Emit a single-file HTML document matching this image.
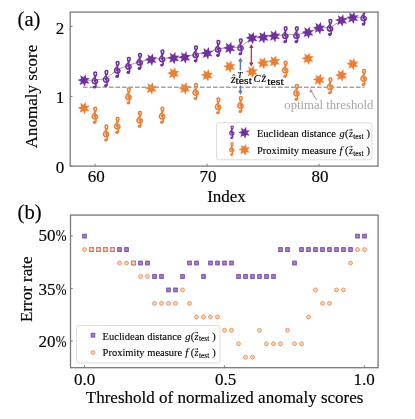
<!DOCTYPE html>
<html><head><meta charset="utf-8"><style>
html,body{margin:0;padding:0;background:#fff;width:415px;height:419px;overflow:hidden}
svg{display:block;will-change:transform}
text{font-family:"Liberation Serif",serif}
</style></head><body>
<svg width="415" height="419" viewBox="0 0 415 419">
<rect width="415" height="419" fill="#fff"/>
<defs><clipPath id="ca"><rect x="70.2" y="12.4" width="307.8" height="153.6"/></clipPath></defs>
<g clip-path="url(#ca)">
<path d="M-6.09,-0.43 L-2.69,-1.54 L-3.46,-5.02 L-0.48,-3.06 L1.77,-5.84 L2.10,-2.28 L5.67,-2.26 L3.09,0.22 L5.30,3.02 L1.76,2.55 L0.94,6.03 L-0.90,2.97 L-4.13,4.49 L-2.88,1.15Z" transform="translate(83.90,108.10) scale(1.0)" fill="#ED7D31" stroke="#ED7D31" stroke-width="0.2"/>
<g transform="translate(95.10,115.45) scale(1.0,0.970)"><path d="M-0.6,7.6 C0.4,7.6 1.0,6.8 0.9,5.6 L0.0,-3.0 C-0.5,-4.6 -1.3,-6.0 -1.2,-7.4 C-1.1,-8.8 1.5,-8.8 1.5,-7.0 C1.5,-5.4 0.9,-4.4 -0.2,-3.2 C-1.6,-1.8 -3.0,-0.8 -2.9,1.0 C-2.8,2.8 -1.4,3.5 0.0,3.5 C1.6,3.5 2.5,2.5 2.4,1.0 C2.3,-0.5 1.2,-1.2 0.0,-0.8 C-1.0,-0.4 -1.0,1.0 0.0,1.3" fill="none" stroke="#ED7D31" stroke-width="1.55" stroke-linecap="round"/><circle cx="-0.6" cy="6.9" r="1.6" fill="#ED7D31"/></g>
<g transform="translate(106.30,133.25) scale(1.0,0.970)"><path d="M-0.6,7.6 C0.4,7.6 1.0,6.8 0.9,5.6 L0.0,-3.0 C-0.5,-4.6 -1.3,-6.0 -1.2,-7.4 C-1.1,-8.8 1.5,-8.8 1.5,-7.0 C1.5,-5.4 0.9,-4.4 -0.2,-3.2 C-1.6,-1.8 -3.0,-0.8 -2.9,1.0 C-2.8,2.8 -1.4,3.5 0.0,3.5 C1.6,3.5 2.5,2.5 2.4,1.0 C2.3,-0.5 1.2,-1.2 0.0,-0.8 C-1.0,-0.4 -1.0,1.0 0.0,1.3" fill="none" stroke="#ED7D31" stroke-width="1.55" stroke-linecap="round"/><circle cx="-0.6" cy="6.9" r="1.6" fill="#ED7D31"/></g>
<g transform="translate(117.50,125.55) scale(1.0,0.970)"><path d="M-0.6,7.6 C0.4,7.6 1.0,6.8 0.9,5.6 L0.0,-3.0 C-0.5,-4.6 -1.3,-6.0 -1.2,-7.4 C-1.1,-8.8 1.5,-8.8 1.5,-7.0 C1.5,-5.4 0.9,-4.4 -0.2,-3.2 C-1.6,-1.8 -3.0,-0.8 -2.9,1.0 C-2.8,2.8 -1.4,3.5 0.0,3.5 C1.6,3.5 2.5,2.5 2.4,1.0 C2.3,-0.5 1.2,-1.2 0.0,-0.8 C-1.0,-0.4 -1.0,1.0 0.0,1.3" fill="none" stroke="#ED7D31" stroke-width="1.55" stroke-linecap="round"/><circle cx="-0.6" cy="6.9" r="1.6" fill="#ED7D31"/></g>
<g transform="translate(128.70,96.15) scale(1.0,0.970)"><path d="M-0.6,7.6 C0.4,7.6 1.0,6.8 0.9,5.6 L0.0,-3.0 C-0.5,-4.6 -1.3,-6.0 -1.2,-7.4 C-1.1,-8.8 1.5,-8.8 1.5,-7.0 C1.5,-5.4 0.9,-4.4 -0.2,-3.2 C-1.6,-1.8 -3.0,-0.8 -2.9,1.0 C-2.8,2.8 -1.4,3.5 0.0,3.5 C1.6,3.5 2.5,2.5 2.4,1.0 C2.3,-0.5 1.2,-1.2 0.0,-0.8 C-1.0,-0.4 -1.0,1.0 0.0,1.3" fill="none" stroke="#ED7D31" stroke-width="1.55" stroke-linecap="round"/><circle cx="-0.6" cy="6.9" r="1.6" fill="#ED7D31"/></g>
<g transform="translate(139.90,119.55) scale(1.0,0.970)"><path d="M-0.6,7.6 C0.4,7.6 1.0,6.8 0.9,5.6 L0.0,-3.0 C-0.5,-4.6 -1.3,-6.0 -1.2,-7.4 C-1.1,-8.8 1.5,-8.8 1.5,-7.0 C1.5,-5.4 0.9,-4.4 -0.2,-3.2 C-1.6,-1.8 -3.0,-0.8 -2.9,1.0 C-2.8,2.8 -1.4,3.5 0.0,3.5 C1.6,3.5 2.5,2.5 2.4,1.0 C2.3,-0.5 1.2,-1.2 0.0,-0.8 C-1.0,-0.4 -1.0,1.0 0.0,1.3" fill="none" stroke="#ED7D31" stroke-width="1.55" stroke-linecap="round"/><circle cx="-0.6" cy="6.9" r="1.6" fill="#ED7D31"/></g>
<path d="M-6.09,-0.43 L-2.69,-1.54 L-3.46,-5.02 L-0.48,-3.06 L1.77,-5.84 L2.10,-2.28 L5.67,-2.26 L3.09,0.22 L5.30,3.02 L1.76,2.55 L0.94,6.03 L-0.90,2.97 L-4.13,4.49 L-2.88,1.15Z" transform="translate(151.10,88.40) scale(1.0)" fill="#ED7D31" stroke="#ED7D31" stroke-width="0.2"/>
<g transform="translate(162.30,115.45) scale(1.0,0.970)"><path d="M-0.6,7.6 C0.4,7.6 1.0,6.8 0.9,5.6 L0.0,-3.0 C-0.5,-4.6 -1.3,-6.0 -1.2,-7.4 C-1.1,-8.8 1.5,-8.8 1.5,-7.0 C1.5,-5.4 0.9,-4.4 -0.2,-3.2 C-1.6,-1.8 -3.0,-0.8 -2.9,1.0 C-2.8,2.8 -1.4,3.5 0.0,3.5 C1.6,3.5 2.5,2.5 2.4,1.0 C2.3,-0.5 1.2,-1.2 0.0,-0.8 C-1.0,-0.4 -1.0,1.0 0.0,1.3" fill="none" stroke="#ED7D31" stroke-width="1.55" stroke-linecap="round"/><circle cx="-0.6" cy="6.9" r="1.6" fill="#ED7D31"/></g>
<path d="M-6.09,-0.43 L-2.69,-1.54 L-3.46,-5.02 L-0.48,-3.06 L1.77,-5.84 L2.10,-2.28 L5.67,-2.26 L3.09,0.22 L5.30,3.02 L1.76,2.55 L0.94,6.03 L-0.90,2.97 L-4.13,4.49 L-2.88,1.15Z" transform="translate(173.50,73.40) scale(1.0)" fill="#ED7D31" stroke="#ED7D31" stroke-width="0.2"/>
<path d="M-6.09,-0.43 L-2.69,-1.54 L-3.46,-5.02 L-0.48,-3.06 L1.77,-5.84 L2.10,-2.28 L5.67,-2.26 L3.09,0.22 L5.30,3.02 L1.76,2.55 L0.94,6.03 L-0.90,2.97 L-4.13,4.49 L-2.88,1.15Z" transform="translate(184.70,88.40) scale(1.0)" fill="#ED7D31" stroke="#ED7D31" stroke-width="0.2"/>
<g transform="translate(195.90,91.75) scale(1.0,0.970)"><path d="M-0.6,7.6 C0.4,7.6 1.0,6.8 0.9,5.6 L0.0,-3.0 C-0.5,-4.6 -1.3,-6.0 -1.2,-7.4 C-1.1,-8.8 1.5,-8.8 1.5,-7.0 C1.5,-5.4 0.9,-4.4 -0.2,-3.2 C-1.6,-1.8 -3.0,-0.8 -2.9,1.0 C-2.8,2.8 -1.4,3.5 0.0,3.5 C1.6,3.5 2.5,2.5 2.4,1.0 C2.3,-0.5 1.2,-1.2 0.0,-0.8 C-1.0,-0.4 -1.0,1.0 0.0,1.3" fill="none" stroke="#ED7D31" stroke-width="1.55" stroke-linecap="round"/><circle cx="-0.6" cy="6.9" r="1.6" fill="#ED7D31"/></g>
<path d="M-6.09,-0.43 L-2.69,-1.54 L-3.46,-5.02 L-0.48,-3.06 L1.77,-5.84 L2.10,-2.28 L5.67,-2.26 L3.09,0.22 L5.30,3.02 L1.76,2.55 L0.94,6.03 L-0.90,2.97 L-4.13,4.49 L-2.88,1.15Z" transform="translate(207.10,75.20) scale(1.0)" fill="#ED7D31" stroke="#ED7D31" stroke-width="0.2"/>
<g transform="translate(218.30,106.05) scale(1.0,0.970)"><path d="M-0.6,7.6 C0.4,7.6 1.0,6.8 0.9,5.6 L0.0,-3.0 C-0.5,-4.6 -1.3,-6.0 -1.2,-7.4 C-1.1,-8.8 1.5,-8.8 1.5,-7.0 C1.5,-5.4 0.9,-4.4 -0.2,-3.2 C-1.6,-1.8 -3.0,-0.8 -2.9,1.0 C-2.8,2.8 -1.4,3.5 0.0,3.5 C1.6,3.5 2.5,2.5 2.4,1.0 C2.3,-0.5 1.2,-1.2 0.0,-0.8 C-1.0,-0.4 -1.0,1.0 0.0,1.3" fill="none" stroke="#ED7D31" stroke-width="1.55" stroke-linecap="round"/><circle cx="-0.6" cy="6.9" r="1.6" fill="#ED7D31"/></g>
<path d="M-6.09,-0.43 L-2.69,-1.54 L-3.46,-5.02 L-0.48,-3.06 L1.77,-5.84 L2.10,-2.28 L5.67,-2.26 L3.09,0.22 L5.30,3.02 L1.76,2.55 L0.94,6.03 L-0.90,2.97 L-4.13,4.49 L-2.88,1.15Z" transform="translate(229.50,66.60) scale(1.0)" fill="#ED7D31" stroke="#ED7D31" stroke-width="0.2"/>
<g transform="translate(240.70,104.75) scale(1.0,0.970)"><path d="M-0.6,7.6 C0.4,7.6 1.0,6.8 0.9,5.6 L0.0,-3.0 C-0.5,-4.6 -1.3,-6.0 -1.2,-7.4 C-1.1,-8.8 1.5,-8.8 1.5,-7.0 C1.5,-5.4 0.9,-4.4 -0.2,-3.2 C-1.6,-1.8 -3.0,-0.8 -2.9,1.0 C-2.8,2.8 -1.4,3.5 0.0,3.5 C1.6,3.5 2.5,2.5 2.4,1.0 C2.3,-0.5 1.2,-1.2 0.0,-0.8 C-1.0,-0.4 -1.0,1.0 0.0,1.3" fill="none" stroke="#ED7D31" stroke-width="1.55" stroke-linecap="round"/><circle cx="-0.6" cy="6.9" r="1.6" fill="#ED7D31"/></g>
<path d="M-6.09,-0.43 L-2.69,-1.54 L-3.46,-5.02 L-0.48,-3.06 L1.77,-5.84 L2.10,-2.28 L5.67,-2.26 L3.09,0.22 L5.30,3.02 L1.76,2.55 L0.94,6.03 L-0.90,2.97 L-4.13,4.49 L-2.88,1.15Z" transform="translate(251.90,71.70) scale(1.0)" fill="#ED7D31" stroke="#ED7D31" stroke-width="0.2"/>
<path d="M-6.09,-0.43 L-2.69,-1.54 L-3.46,-5.02 L-0.48,-3.06 L1.77,-5.84 L2.10,-2.28 L5.67,-2.26 L3.09,0.22 L5.30,3.02 L1.76,2.55 L0.94,6.03 L-0.90,2.97 L-4.13,4.49 L-2.88,1.15Z" transform="translate(263.10,63.10) scale(1.0)" fill="#ED7D31" stroke="#ED7D31" stroke-width="0.2"/>
<path d="M-6.09,-0.43 L-2.69,-1.54 L-3.46,-5.02 L-0.48,-3.06 L1.77,-5.84 L2.10,-2.28 L5.67,-2.26 L3.09,0.22 L5.30,3.02 L1.76,2.55 L0.94,6.03 L-0.90,2.97 L-4.13,4.49 L-2.88,1.15Z" transform="translate(274.30,61.60) scale(1.0)" fill="#ED7D31" stroke="#ED7D31" stroke-width="0.2"/>
<g transform="translate(285.50,69.45) scale(1.0,0.970)"><path d="M-0.6,7.6 C0.4,7.6 1.0,6.8 0.9,5.6 L0.0,-3.0 C-0.5,-4.6 -1.3,-6.0 -1.2,-7.4 C-1.1,-8.8 1.5,-8.8 1.5,-7.0 C1.5,-5.4 0.9,-4.4 -0.2,-3.2 C-1.6,-1.8 -3.0,-0.8 -2.9,1.0 C-2.8,2.8 -1.4,3.5 0.0,3.5 C1.6,3.5 2.5,2.5 2.4,1.0 C2.3,-0.5 1.2,-1.2 0.0,-0.8 C-1.0,-0.4 -1.0,1.0 0.0,1.3" fill="none" stroke="#ED7D31" stroke-width="1.55" stroke-linecap="round"/><circle cx="-0.6" cy="6.9" r="1.6" fill="#ED7D31"/></g>
<g transform="translate(296.70,92.55) scale(1.0,0.970)"><path d="M-0.6,7.6 C0.4,7.6 1.0,6.8 0.9,5.6 L0.0,-3.0 C-0.5,-4.6 -1.3,-6.0 -1.2,-7.4 C-1.1,-8.8 1.5,-8.8 1.5,-7.0 C1.5,-5.4 0.9,-4.4 -0.2,-3.2 C-1.6,-1.8 -3.0,-0.8 -2.9,1.0 C-2.8,2.8 -1.4,3.5 0.0,3.5 C1.6,3.5 2.5,2.5 2.4,1.0 C2.3,-0.5 1.2,-1.2 0.0,-0.8 C-1.0,-0.4 -1.0,1.0 0.0,1.3" fill="none" stroke="#ED7D31" stroke-width="1.55" stroke-linecap="round"/><circle cx="-0.6" cy="6.9" r="1.6" fill="#ED7D31"/></g>
<path d="M-6.09,-0.43 L-2.69,-1.54 L-3.46,-5.02 L-0.48,-3.06 L1.77,-5.84 L2.10,-2.28 L5.67,-2.26 L3.09,0.22 L5.30,3.02 L1.76,2.55 L0.94,6.03 L-0.90,2.97 L-4.13,4.49 L-2.88,1.15Z" transform="translate(307.90,58.60) scale(1.0)" fill="#ED7D31" stroke="#ED7D31" stroke-width="0.2"/>
<path d="M-6.09,-0.43 L-2.69,-1.54 L-3.46,-5.02 L-0.48,-3.06 L1.77,-5.84 L2.10,-2.28 L5.67,-2.26 L3.09,0.22 L5.30,3.02 L1.76,2.55 L0.94,6.03 L-0.90,2.97 L-4.13,4.49 L-2.88,1.15Z" transform="translate(319.10,79.70) scale(1.0)" fill="#ED7D31" stroke="#ED7D31" stroke-width="0.2"/>
<g transform="translate(330.30,86.05) scale(1.0,0.970)"><path d="M-0.6,7.6 C0.4,7.6 1.0,6.8 0.9,5.6 L0.0,-3.0 C-0.5,-4.6 -1.3,-6.0 -1.2,-7.4 C-1.1,-8.8 1.5,-8.8 1.5,-7.0 C1.5,-5.4 0.9,-4.4 -0.2,-3.2 C-1.6,-1.8 -3.0,-0.8 -2.9,1.0 C-2.8,2.8 -1.4,3.5 0.0,3.5 C1.6,3.5 2.5,2.5 2.4,1.0 C2.3,-0.5 1.2,-1.2 0.0,-0.8 C-1.0,-0.4 -1.0,1.0 0.0,1.3" fill="none" stroke="#ED7D31" stroke-width="1.55" stroke-linecap="round"/><circle cx="-0.6" cy="6.9" r="1.6" fill="#ED7D31"/></g>
<path d="M-6.09,-0.43 L-2.69,-1.54 L-3.46,-5.02 L-0.48,-3.06 L1.77,-5.84 L2.10,-2.28 L5.67,-2.26 L3.09,0.22 L5.30,3.02 L1.76,2.55 L0.94,6.03 L-0.90,2.97 L-4.13,4.49 L-2.88,1.15Z" transform="translate(341.50,75.40) scale(1.0)" fill="#ED7D31" stroke="#ED7D31" stroke-width="0.2"/>
<path d="M-6.09,-0.43 L-2.69,-1.54 L-3.46,-5.02 L-0.48,-3.06 L1.77,-5.84 L2.10,-2.28 L5.67,-2.26 L3.09,0.22 L5.30,3.02 L1.76,2.55 L0.94,6.03 L-0.90,2.97 L-4.13,4.49 L-2.88,1.15Z" transform="translate(352.70,64.00) scale(1.0)" fill="#ED7D31" stroke="#ED7D31" stroke-width="0.2"/>
<g transform="translate(363.90,77.75) scale(1.0,0.970)"><path d="M-0.6,7.6 C0.4,7.6 1.0,6.8 0.9,5.6 L0.0,-3.0 C-0.5,-4.6 -1.3,-6.0 -1.2,-7.4 C-1.1,-8.8 1.5,-8.8 1.5,-7.0 C1.5,-5.4 0.9,-4.4 -0.2,-3.2 C-1.6,-1.8 -3.0,-0.8 -2.9,1.0 C-2.8,2.8 -1.4,3.5 0.0,3.5 C1.6,3.5 2.5,2.5 2.4,1.0 C2.3,-0.5 1.2,-1.2 0.0,-0.8 C-1.0,-0.4 -1.0,1.0 0.0,1.3" fill="none" stroke="#ED7D31" stroke-width="1.55" stroke-linecap="round"/><circle cx="-0.6" cy="6.9" r="1.6" fill="#ED7D31"/></g>
<line x1="83" y1="87.2" x2="364.4" y2="87.2" stroke="#a2a2a2" stroke-width="1.4" stroke-dasharray="4.6 1.9"/>
<polyline points="83.90,80.40 95.10,80.00 106.30,78.50 117.50,69.40 128.70,65.40 139.90,61.40 151.10,59.60 162.30,58.00 173.50,58.10 184.70,57.40 195.90,53.90 207.10,53.20 218.30,48.40 229.50,48.10 240.70,46.80 251.90,38.10 263.10,37.40 274.30,36.00 285.50,34.70 296.70,34.70 307.90,32.50 319.10,28.10 330.30,27.40 341.50,20.40 352.70,17.70 363.90,17.10" fill="none" stroke="#8a8a8a" stroke-width="0.8"/>
<path d="M-6.09,-0.43 L-2.69,-1.54 L-3.46,-5.02 L-0.48,-3.06 L1.77,-5.84 L2.10,-2.28 L5.67,-2.26 L3.09,0.22 L5.30,3.02 L1.76,2.55 L0.94,6.03 L-0.90,2.97 L-4.13,4.49 L-2.88,1.15Z" transform="translate(83.90,80.40) scale(1.0)" fill="#7030A0" stroke="#7030A0" stroke-width="0.2"/>
<g transform="translate(95.10,80.25) scale(1.0,0.970)"><path d="M-0.6,7.6 C0.4,7.6 1.0,6.8 0.9,5.6 L0.0,-3.0 C-0.5,-4.6 -1.3,-6.0 -1.2,-7.4 C-1.1,-8.8 1.5,-8.8 1.5,-7.0 C1.5,-5.4 0.9,-4.4 -0.2,-3.2 C-1.6,-1.8 -3.0,-0.8 -2.9,1.0 C-2.8,2.8 -1.4,3.5 0.0,3.5 C1.6,3.5 2.5,2.5 2.4,1.0 C2.3,-0.5 1.2,-1.2 0.0,-0.8 C-1.0,-0.4 -1.0,1.0 0.0,1.3" fill="none" stroke="#7030A0" stroke-width="1.55" stroke-linecap="round"/><circle cx="-0.6" cy="6.9" r="1.6" fill="#7030A0"/></g>
<g transform="translate(106.30,78.75) scale(1.0,0.970)"><path d="M-0.6,7.6 C0.4,7.6 1.0,6.8 0.9,5.6 L0.0,-3.0 C-0.5,-4.6 -1.3,-6.0 -1.2,-7.4 C-1.1,-8.8 1.5,-8.8 1.5,-7.0 C1.5,-5.4 0.9,-4.4 -0.2,-3.2 C-1.6,-1.8 -3.0,-0.8 -2.9,1.0 C-2.8,2.8 -1.4,3.5 0.0,3.5 C1.6,3.5 2.5,2.5 2.4,1.0 C2.3,-0.5 1.2,-1.2 0.0,-0.8 C-1.0,-0.4 -1.0,1.0 0.0,1.3" fill="none" stroke="#7030A0" stroke-width="1.55" stroke-linecap="round"/><circle cx="-0.6" cy="6.9" r="1.6" fill="#7030A0"/></g>
<g transform="translate(117.50,69.65) scale(1.0,0.970)"><path d="M-0.6,7.6 C0.4,7.6 1.0,6.8 0.9,5.6 L0.0,-3.0 C-0.5,-4.6 -1.3,-6.0 -1.2,-7.4 C-1.1,-8.8 1.5,-8.8 1.5,-7.0 C1.5,-5.4 0.9,-4.4 -0.2,-3.2 C-1.6,-1.8 -3.0,-0.8 -2.9,1.0 C-2.8,2.8 -1.4,3.5 0.0,3.5 C1.6,3.5 2.5,2.5 2.4,1.0 C2.3,-0.5 1.2,-1.2 0.0,-0.8 C-1.0,-0.4 -1.0,1.0 0.0,1.3" fill="none" stroke="#7030A0" stroke-width="1.55" stroke-linecap="round"/><circle cx="-0.6" cy="6.9" r="1.6" fill="#7030A0"/></g>
<g transform="translate(128.70,65.65) scale(1.0,0.970)"><path d="M-0.6,7.6 C0.4,7.6 1.0,6.8 0.9,5.6 L0.0,-3.0 C-0.5,-4.6 -1.3,-6.0 -1.2,-7.4 C-1.1,-8.8 1.5,-8.8 1.5,-7.0 C1.5,-5.4 0.9,-4.4 -0.2,-3.2 C-1.6,-1.8 -3.0,-0.8 -2.9,1.0 C-2.8,2.8 -1.4,3.5 0.0,3.5 C1.6,3.5 2.5,2.5 2.4,1.0 C2.3,-0.5 1.2,-1.2 0.0,-0.8 C-1.0,-0.4 -1.0,1.0 0.0,1.3" fill="none" stroke="#7030A0" stroke-width="1.55" stroke-linecap="round"/><circle cx="-0.6" cy="6.9" r="1.6" fill="#7030A0"/></g>
<g transform="translate(139.90,61.65) scale(1.0,0.970)"><path d="M-0.6,7.6 C0.4,7.6 1.0,6.8 0.9,5.6 L0.0,-3.0 C-0.5,-4.6 -1.3,-6.0 -1.2,-7.4 C-1.1,-8.8 1.5,-8.8 1.5,-7.0 C1.5,-5.4 0.9,-4.4 -0.2,-3.2 C-1.6,-1.8 -3.0,-0.8 -2.9,1.0 C-2.8,2.8 -1.4,3.5 0.0,3.5 C1.6,3.5 2.5,2.5 2.4,1.0 C2.3,-0.5 1.2,-1.2 0.0,-0.8 C-1.0,-0.4 -1.0,1.0 0.0,1.3" fill="none" stroke="#7030A0" stroke-width="1.55" stroke-linecap="round"/><circle cx="-0.6" cy="6.9" r="1.6" fill="#7030A0"/></g>
<path d="M-6.09,-0.43 L-2.69,-1.54 L-3.46,-5.02 L-0.48,-3.06 L1.77,-5.84 L2.10,-2.28 L5.67,-2.26 L3.09,0.22 L5.30,3.02 L1.76,2.55 L0.94,6.03 L-0.90,2.97 L-4.13,4.49 L-2.88,1.15Z" transform="translate(151.10,59.60) scale(1.0)" fill="#7030A0" stroke="#7030A0" stroke-width="0.2"/>
<g transform="translate(162.30,58.25) scale(1.0,0.970)"><path d="M-0.6,7.6 C0.4,7.6 1.0,6.8 0.9,5.6 L0.0,-3.0 C-0.5,-4.6 -1.3,-6.0 -1.2,-7.4 C-1.1,-8.8 1.5,-8.8 1.5,-7.0 C1.5,-5.4 0.9,-4.4 -0.2,-3.2 C-1.6,-1.8 -3.0,-0.8 -2.9,1.0 C-2.8,2.8 -1.4,3.5 0.0,3.5 C1.6,3.5 2.5,2.5 2.4,1.0 C2.3,-0.5 1.2,-1.2 0.0,-0.8 C-1.0,-0.4 -1.0,1.0 0.0,1.3" fill="none" stroke="#7030A0" stroke-width="1.55" stroke-linecap="round"/><circle cx="-0.6" cy="6.9" r="1.6" fill="#7030A0"/></g>
<path d="M-6.09,-0.43 L-2.69,-1.54 L-3.46,-5.02 L-0.48,-3.06 L1.77,-5.84 L2.10,-2.28 L5.67,-2.26 L3.09,0.22 L5.30,3.02 L1.76,2.55 L0.94,6.03 L-0.90,2.97 L-4.13,4.49 L-2.88,1.15Z" transform="translate(173.50,58.10) scale(1.0)" fill="#7030A0" stroke="#7030A0" stroke-width="0.2"/>
<path d="M-6.09,-0.43 L-2.69,-1.54 L-3.46,-5.02 L-0.48,-3.06 L1.77,-5.84 L2.10,-2.28 L5.67,-2.26 L3.09,0.22 L5.30,3.02 L1.76,2.55 L0.94,6.03 L-0.90,2.97 L-4.13,4.49 L-2.88,1.15Z" transform="translate(184.70,57.40) scale(1.0)" fill="#7030A0" stroke="#7030A0" stroke-width="0.2"/>
<g transform="translate(195.90,54.15) scale(1.0,0.970)"><path d="M-0.6,7.6 C0.4,7.6 1.0,6.8 0.9,5.6 L0.0,-3.0 C-0.5,-4.6 -1.3,-6.0 -1.2,-7.4 C-1.1,-8.8 1.5,-8.8 1.5,-7.0 C1.5,-5.4 0.9,-4.4 -0.2,-3.2 C-1.6,-1.8 -3.0,-0.8 -2.9,1.0 C-2.8,2.8 -1.4,3.5 0.0,3.5 C1.6,3.5 2.5,2.5 2.4,1.0 C2.3,-0.5 1.2,-1.2 0.0,-0.8 C-1.0,-0.4 -1.0,1.0 0.0,1.3" fill="none" stroke="#7030A0" stroke-width="1.55" stroke-linecap="round"/><circle cx="-0.6" cy="6.9" r="1.6" fill="#7030A0"/></g>
<path d="M-6.09,-0.43 L-2.69,-1.54 L-3.46,-5.02 L-0.48,-3.06 L1.77,-5.84 L2.10,-2.28 L5.67,-2.26 L3.09,0.22 L5.30,3.02 L1.76,2.55 L0.94,6.03 L-0.90,2.97 L-4.13,4.49 L-2.88,1.15Z" transform="translate(207.10,53.20) scale(1.0)" fill="#7030A0" stroke="#7030A0" stroke-width="0.2"/>
<g transform="translate(218.30,48.65) scale(1.0,0.970)"><path d="M-0.6,7.6 C0.4,7.6 1.0,6.8 0.9,5.6 L0.0,-3.0 C-0.5,-4.6 -1.3,-6.0 -1.2,-7.4 C-1.1,-8.8 1.5,-8.8 1.5,-7.0 C1.5,-5.4 0.9,-4.4 -0.2,-3.2 C-1.6,-1.8 -3.0,-0.8 -2.9,1.0 C-2.8,2.8 -1.4,3.5 0.0,3.5 C1.6,3.5 2.5,2.5 2.4,1.0 C2.3,-0.5 1.2,-1.2 0.0,-0.8 C-1.0,-0.4 -1.0,1.0 0.0,1.3" fill="none" stroke="#7030A0" stroke-width="1.55" stroke-linecap="round"/><circle cx="-0.6" cy="6.9" r="1.6" fill="#7030A0"/></g>
<path d="M-6.09,-0.43 L-2.69,-1.54 L-3.46,-5.02 L-0.48,-3.06 L1.77,-5.84 L2.10,-2.28 L5.67,-2.26 L3.09,0.22 L5.30,3.02 L1.76,2.55 L0.94,6.03 L-0.90,2.97 L-4.13,4.49 L-2.88,1.15Z" transform="translate(229.50,48.10) scale(1.0)" fill="#7030A0" stroke="#7030A0" stroke-width="0.2"/>
<g transform="translate(240.70,47.05) scale(1.0,0.970)"><path d="M-0.6,7.6 C0.4,7.6 1.0,6.8 0.9,5.6 L0.0,-3.0 C-0.5,-4.6 -1.3,-6.0 -1.2,-7.4 C-1.1,-8.8 1.5,-8.8 1.5,-7.0 C1.5,-5.4 0.9,-4.4 -0.2,-3.2 C-1.6,-1.8 -3.0,-0.8 -2.9,1.0 C-2.8,2.8 -1.4,3.5 0.0,3.5 C1.6,3.5 2.5,2.5 2.4,1.0 C2.3,-0.5 1.2,-1.2 0.0,-0.8 C-1.0,-0.4 -1.0,1.0 0.0,1.3" fill="none" stroke="#7030A0" stroke-width="1.55" stroke-linecap="round"/><circle cx="-0.6" cy="6.9" r="1.6" fill="#7030A0"/></g>
<path d="M-6.09,-0.43 L-2.69,-1.54 L-3.46,-5.02 L-0.48,-3.06 L1.77,-5.84 L2.10,-2.28 L5.67,-2.26 L3.09,0.22 L5.30,3.02 L1.76,2.55 L0.94,6.03 L-0.90,2.97 L-4.13,4.49 L-2.88,1.15Z" transform="translate(251.90,38.10) scale(1.0)" fill="#7030A0" stroke="#7030A0" stroke-width="0.2"/>
<path d="M-6.09,-0.43 L-2.69,-1.54 L-3.46,-5.02 L-0.48,-3.06 L1.77,-5.84 L2.10,-2.28 L5.67,-2.26 L3.09,0.22 L5.30,3.02 L1.76,2.55 L0.94,6.03 L-0.90,2.97 L-4.13,4.49 L-2.88,1.15Z" transform="translate(263.10,37.40) scale(1.0)" fill="#7030A0" stroke="#7030A0" stroke-width="0.2"/>
<path d="M-6.09,-0.43 L-2.69,-1.54 L-3.46,-5.02 L-0.48,-3.06 L1.77,-5.84 L2.10,-2.28 L5.67,-2.26 L3.09,0.22 L5.30,3.02 L1.76,2.55 L0.94,6.03 L-0.90,2.97 L-4.13,4.49 L-2.88,1.15Z" transform="translate(274.30,36.00) scale(1.0)" fill="#7030A0" stroke="#7030A0" stroke-width="0.2"/>
<g transform="translate(285.50,34.95) scale(1.0,0.970)"><path d="M-0.6,7.6 C0.4,7.6 1.0,6.8 0.9,5.6 L0.0,-3.0 C-0.5,-4.6 -1.3,-6.0 -1.2,-7.4 C-1.1,-8.8 1.5,-8.8 1.5,-7.0 C1.5,-5.4 0.9,-4.4 -0.2,-3.2 C-1.6,-1.8 -3.0,-0.8 -2.9,1.0 C-2.8,2.8 -1.4,3.5 0.0,3.5 C1.6,3.5 2.5,2.5 2.4,1.0 C2.3,-0.5 1.2,-1.2 0.0,-0.8 C-1.0,-0.4 -1.0,1.0 0.0,1.3" fill="none" stroke="#7030A0" stroke-width="1.55" stroke-linecap="round"/><circle cx="-0.6" cy="6.9" r="1.6" fill="#7030A0"/></g>
<g transform="translate(296.70,34.95) scale(1.0,0.970)"><path d="M-0.6,7.6 C0.4,7.6 1.0,6.8 0.9,5.6 L0.0,-3.0 C-0.5,-4.6 -1.3,-6.0 -1.2,-7.4 C-1.1,-8.8 1.5,-8.8 1.5,-7.0 C1.5,-5.4 0.9,-4.4 -0.2,-3.2 C-1.6,-1.8 -3.0,-0.8 -2.9,1.0 C-2.8,2.8 -1.4,3.5 0.0,3.5 C1.6,3.5 2.5,2.5 2.4,1.0 C2.3,-0.5 1.2,-1.2 0.0,-0.8 C-1.0,-0.4 -1.0,1.0 0.0,1.3" fill="none" stroke="#7030A0" stroke-width="1.55" stroke-linecap="round"/><circle cx="-0.6" cy="6.9" r="1.6" fill="#7030A0"/></g>
<path d="M-6.09,-0.43 L-2.69,-1.54 L-3.46,-5.02 L-0.48,-3.06 L1.77,-5.84 L2.10,-2.28 L5.67,-2.26 L3.09,0.22 L5.30,3.02 L1.76,2.55 L0.94,6.03 L-0.90,2.97 L-4.13,4.49 L-2.88,1.15Z" transform="translate(307.90,32.50) scale(1.0)" fill="#7030A0" stroke="#7030A0" stroke-width="0.2"/>
<path d="M-6.09,-0.43 L-2.69,-1.54 L-3.46,-5.02 L-0.48,-3.06 L1.77,-5.84 L2.10,-2.28 L5.67,-2.26 L3.09,0.22 L5.30,3.02 L1.76,2.55 L0.94,6.03 L-0.90,2.97 L-4.13,4.49 L-2.88,1.15Z" transform="translate(319.10,28.10) scale(1.0)" fill="#7030A0" stroke="#7030A0" stroke-width="0.2"/>
<g transform="translate(330.30,27.65) scale(1.0,0.970)"><path d="M-0.6,7.6 C0.4,7.6 1.0,6.8 0.9,5.6 L0.0,-3.0 C-0.5,-4.6 -1.3,-6.0 -1.2,-7.4 C-1.1,-8.8 1.5,-8.8 1.5,-7.0 C1.5,-5.4 0.9,-4.4 -0.2,-3.2 C-1.6,-1.8 -3.0,-0.8 -2.9,1.0 C-2.8,2.8 -1.4,3.5 0.0,3.5 C1.6,3.5 2.5,2.5 2.4,1.0 C2.3,-0.5 1.2,-1.2 0.0,-0.8 C-1.0,-0.4 -1.0,1.0 0.0,1.3" fill="none" stroke="#7030A0" stroke-width="1.55" stroke-linecap="round"/><circle cx="-0.6" cy="6.9" r="1.6" fill="#7030A0"/></g>
<path d="M-6.09,-0.43 L-2.69,-1.54 L-3.46,-5.02 L-0.48,-3.06 L1.77,-5.84 L2.10,-2.28 L5.67,-2.26 L3.09,0.22 L5.30,3.02 L1.76,2.55 L0.94,6.03 L-0.90,2.97 L-4.13,4.49 L-2.88,1.15Z" transform="translate(341.50,20.40) scale(1.0)" fill="#7030A0" stroke="#7030A0" stroke-width="0.2"/>
<path d="M-6.09,-0.43 L-2.69,-1.54 L-3.46,-5.02 L-0.48,-3.06 L1.77,-5.84 L2.10,-2.28 L5.67,-2.26 L3.09,0.22 L5.30,3.02 L1.76,2.55 L0.94,6.03 L-0.90,2.97 L-4.13,4.49 L-2.88,1.15Z" transform="translate(352.70,17.70) scale(1.0)" fill="#7030A0" stroke="#7030A0" stroke-width="0.2"/>
<g transform="translate(363.90,17.35) scale(1.0,0.970)"><path d="M-0.6,7.6 C0.4,7.6 1.0,6.8 0.9,5.6 L0.0,-3.0 C-0.5,-4.6 -1.3,-6.0 -1.2,-7.4 C-1.1,-8.8 1.5,-8.8 1.5,-7.0 C1.5,-5.4 0.9,-4.4 -0.2,-3.2 C-1.6,-1.8 -3.0,-0.8 -2.9,1.0 C-2.8,2.8 -1.4,3.5 0.0,3.5 C1.6,3.5 2.5,2.5 2.4,1.0 C2.3,-0.5 1.2,-1.2 0.0,-0.8 C-1.0,-0.4 -1.0,1.0 0.0,1.3" fill="none" stroke="#7030A0" stroke-width="1.55" stroke-linecap="round"/><circle cx="-0.6" cy="6.9" r="1.6" fill="#7030A0"/></g>
</g>
<line x1="251.3" y1="46.5" x2="251.3" y2="64" stroke="#c0282d" stroke-width="1.2"/>
<path d="M251.3,44.1 L249.10000000000002,47.9 L253.5,47.9Z" fill="#c0282d"/>
<path d="M251.3,66.4 L249.10000000000002,62.60000000000001 L253.5,62.60000000000001Z" fill="#c0282d"/>
<line x1="240.4" y1="60" x2="240.4" y2="70.3" stroke="#5a76b8" stroke-width="1.5"/>
<line x1="240.4" y1="85.5" x2="240.4" y2="92" stroke="#5a76b8" stroke-width="1.5"/>
<path d="M240.4,57.6 L238.1,61.6 L242.70000000000002,61.6Z" fill="#5a76b8"/>
<path d="M240.4,94.8 L238.1,90.8 L242.70000000000002,90.8Z" fill="#5a76b8"/>
<g font-family="Liberation Serif" fill="#000" stroke="#000" stroke-width="0.2">
<text x="230.9" y="82.5" font-size="11.9" font-style="italic">z</text>
<path d="M232.40,76.10 L233.80,74.30 L235.20,76.10" fill="none" stroke="#222" stroke-width="0.75"/>
<text x="237.4" y="77.5" font-size="8.6" font-style="italic">T</text>
<text x="235.6" y="84.4" font-size="9.8" textLength="16.3" lengthAdjust="spacingAndGlyphs">test</text>
<text x="253.6" y="82.1" font-size="10.6" font-style="italic">C</text>
<text x="261.6" y="82.3" font-size="11.9" font-style="italic">z</text>
<path d="M262.60,76.10 L264.00,74.30 L265.40,76.10" fill="none" stroke="#222" stroke-width="0.75"/>
<text x="267.3" y="84.5" font-size="9.8" textLength="16.4" lengthAdjust="spacingAndGlyphs">test</text>
</g>
<line x1="316.6" y1="100" x2="311.2" y2="91.2" stroke="#999" stroke-width="1"/>
<path d="M309.9,89.1 L309.6,93.0 L312.8,91.1Z" fill="#999"/>
<text x="284.3" y="109.3" font-size="12.7" font-family="Liberation Serif" fill="#a6a6a6">optimal threshold</text>
<rect x="216.5" y="122.8" width="155.5" height="37.0" rx="2" fill="#fff" fill-opacity="0.85" stroke="#dcdcdc" stroke-width="1"/>
<g transform="translate(232.00,132.50) scale(0.8,0.776)"><path d="M-0.6,7.6 C0.4,7.6 1.0,6.8 0.9,5.6 L0.0,-3.0 C-0.5,-4.6 -1.3,-6.0 -1.2,-7.4 C-1.1,-8.8 1.5,-8.8 1.5,-7.0 C1.5,-5.4 0.9,-4.4 -0.2,-3.2 C-1.6,-1.8 -3.0,-0.8 -2.9,1.0 C-2.8,2.8 -1.4,3.5 0.0,3.5 C1.6,3.5 2.5,2.5 2.4,1.0 C2.3,-0.5 1.2,-1.2 0.0,-0.8 C-1.0,-0.4 -1.0,1.0 0.0,1.3" fill="none" stroke="#7030A0" stroke-width="1.55" stroke-linecap="round"/><circle cx="-0.6" cy="6.9" r="1.6" fill="#7030A0"/></g>
<path d="M-6.09,-0.43 L-2.69,-1.54 L-3.46,-5.02 L-0.48,-3.06 L1.77,-5.84 L2.10,-2.28 L5.67,-2.26 L3.09,0.22 L5.30,3.02 L1.76,2.55 L0.94,6.03 L-0.90,2.97 L-4.13,4.49 L-2.88,1.15Z" transform="translate(244.40,132.60) scale(0.95)" fill="#7030A0" stroke="#7030A0" stroke-width="0.2"/>
<g transform="translate(232.00,149.20) scale(0.8,0.776)"><path d="M-0.6,7.6 C0.4,7.6 1.0,6.8 0.9,5.6 L0.0,-3.0 C-0.5,-4.6 -1.3,-6.0 -1.2,-7.4 C-1.1,-8.8 1.5,-8.8 1.5,-7.0 C1.5,-5.4 0.9,-4.4 -0.2,-3.2 C-1.6,-1.8 -3.0,-0.8 -2.9,1.0 C-2.8,2.8 -1.4,3.5 0.0,3.5 C1.6,3.5 2.5,2.5 2.4,1.0 C2.3,-0.5 1.2,-1.2 0.0,-0.8 C-1.0,-0.4 -1.0,1.0 0.0,1.3" fill="none" stroke="#ED7D31" stroke-width="1.55" stroke-linecap="round"/><circle cx="-0.6" cy="6.9" r="1.6" fill="#ED7D31"/></g>
<path d="M-6.09,-0.43 L-2.69,-1.54 L-3.46,-5.02 L-0.48,-3.06 L1.77,-5.84 L2.10,-2.28 L5.67,-2.26 L3.09,0.22 L5.30,3.02 L1.76,2.55 L0.94,6.03 L-0.90,2.97 L-4.13,4.49 L-2.88,1.15Z" transform="translate(244.40,149.70) scale(0.95)" fill="#ED7D31" stroke="#ED7D31" stroke-width="0.2"/>
<g font-family="Liberation Serif" font-size="10.5" fill="#000" stroke="#000" stroke-width="0.12"><text x="256.9" y="137.2">Euclidean distance</text><text x="339.60" y="137.2" font-style="italic">g</text><text x="345.00" y="137.2">(</text><text x="348.90" y="137.2" font-size="10.2" font-style="italic">z</text><path d="M348.70,130.00 L352.30,130.00 M351.20,129.10 L352.30,130.00 L351.20,130.90" fill="none" stroke="#111" stroke-width="0.6"/><text x="353.30" y="138.80" font-size="7.6" textLength="10.2" lengthAdjust="spacingAndGlyphs">test</text><text x="366.60" y="137.2">)</text></g>
<g font-family="Liberation Serif" font-size="10.5" fill="#000" stroke="#000" stroke-width="0.12"><text x="256.9" y="153.9">Proximity measure</text><text x="339.60" y="153.9" font-style="italic">f</text><text x="345.00" y="153.9">(</text><text x="348.90" y="153.9" font-size="10.2" font-style="italic">z</text><path d="M348.70,146.70 L352.30,146.70 M351.20,145.80 L352.30,146.70 L351.20,147.60" fill="none" stroke="#111" stroke-width="0.6"/><text x="353.30" y="155.50" font-size="7.6" textLength="10.2" lengthAdjust="spacingAndGlyphs">test</text><text x="366.60" y="153.9">)</text></g>
<rect x="70.2" y="12.1" width="307.8" height="154" fill="none" stroke="#7a7a7a" stroke-width="1.3"/>
<line x1="95.1" y1="166.1" x2="95.1" y2="163.8" stroke="#7a7a7a" stroke-width="1"/>
<line x1="207.1" y1="166.1" x2="207.1" y2="163.8" stroke="#7a7a7a" stroke-width="1"/>
<line x1="319.1" y1="166.1" x2="319.1" y2="163.8" stroke="#7a7a7a" stroke-width="1"/>
<line x1="70.2" y1="26.4" x2="72.5" y2="26.4" stroke="#7a7a7a" stroke-width="1"/>
<line x1="70.2" y1="96.4" x2="72.5" y2="96.4" stroke="#7a7a7a" stroke-width="1"/>
<line x1="70.2" y1="166.1" x2="72.5" y2="166.1" stroke="#7a7a7a" stroke-width="1"/>
<g font-family="Liberation Serif" font-size="17" fill="#000" stroke="#000" stroke-width="0.15">
<text x="96.2" y="181.8" text-anchor="middle">60</text>
<text x="208.1" y="181.8" text-anchor="middle">70</text>
<text x="320" y="181.8" text-anchor="middle">80</text>
<text x="64.3" y="33.9" text-anchor="end">2</text>
<text x="64.3" y="103.1" text-anchor="end">1</text>
<text x="64.3" y="172.9" text-anchor="end">0</text>
<text x="226.5" y="202" text-anchor="middle">Index</text>
<text transform="translate(37.1,96.5) rotate(-90)" text-anchor="middle">Anomaly score</text>
</g>
<text x="17.6" y="25.6" font-size="20.6" font-family="Liberation Serif" fill="#000" stroke="#000" stroke-width="0.15">(a)</text>
<rect x="82.70" y="234.20" width="3.6" height="3.8" fill="#a585c6" stroke="#7440a8" stroke-width="0.9"/>
<rect x="89.70" y="247.66" width="3.6" height="3.8" fill="#a585c6" stroke="#7440a8" stroke-width="0.9"/>
<rect x="96.70" y="247.66" width="3.6" height="3.8" fill="#a585c6" stroke="#7440a8" stroke-width="0.9"/>
<rect x="103.70" y="247.66" width="3.6" height="3.8" fill="#a585c6" stroke="#7440a8" stroke-width="0.9"/>
<rect x="110.70" y="247.66" width="3.6" height="3.8" fill="#a585c6" stroke="#7440a8" stroke-width="0.9"/>
<rect x="117.70" y="247.66" width="3.6" height="3.8" fill="#a585c6" stroke="#7440a8" stroke-width="0.9"/>
<rect x="124.70" y="247.66" width="3.6" height="3.8" fill="#a585c6" stroke="#7440a8" stroke-width="0.9"/>
<rect x="131.70" y="261.12" width="3.6" height="3.8" fill="#a585c6" stroke="#7440a8" stroke-width="0.9"/>
<rect x="138.70" y="261.12" width="3.6" height="3.8" fill="#a585c6" stroke="#7440a8" stroke-width="0.9"/>
<rect x="145.70" y="261.12" width="3.6" height="3.8" fill="#a585c6" stroke="#7440a8" stroke-width="0.9"/>
<rect x="152.70" y="274.58" width="3.6" height="3.8" fill="#a585c6" stroke="#7440a8" stroke-width="0.9"/>
<rect x="159.70" y="274.58" width="3.6" height="3.8" fill="#a585c6" stroke="#7440a8" stroke-width="0.9"/>
<rect x="166.70" y="288.04" width="3.6" height="3.8" fill="#a585c6" stroke="#7440a8" stroke-width="0.9"/>
<rect x="173.70" y="288.04" width="3.6" height="3.8" fill="#a585c6" stroke="#7440a8" stroke-width="0.9"/>
<rect x="180.70" y="274.58" width="3.6" height="3.8" fill="#a585c6" stroke="#7440a8" stroke-width="0.9"/>
<rect x="187.70" y="261.12" width="3.6" height="3.8" fill="#a585c6" stroke="#7440a8" stroke-width="0.9"/>
<rect x="194.70" y="261.12" width="3.6" height="3.8" fill="#a585c6" stroke="#7440a8" stroke-width="0.9"/>
<rect x="201.70" y="274.58" width="3.6" height="3.8" fill="#a585c6" stroke="#7440a8" stroke-width="0.9"/>
<rect x="208.70" y="261.12" width="3.6" height="3.8" fill="#a585c6" stroke="#7440a8" stroke-width="0.9"/>
<rect x="215.70" y="261.12" width="3.6" height="3.8" fill="#a585c6" stroke="#7440a8" stroke-width="0.9"/>
<rect x="222.70" y="261.12" width="3.6" height="3.8" fill="#a585c6" stroke="#7440a8" stroke-width="0.9"/>
<rect x="229.70" y="261.12" width="3.6" height="3.8" fill="#a585c6" stroke="#7440a8" stroke-width="0.9"/>
<rect x="236.70" y="274.58" width="3.6" height="3.8" fill="#a585c6" stroke="#7440a8" stroke-width="0.9"/>
<rect x="243.70" y="274.58" width="3.6" height="3.8" fill="#a585c6" stroke="#7440a8" stroke-width="0.9"/>
<rect x="250.70" y="274.58" width="3.6" height="3.8" fill="#a585c6" stroke="#7440a8" stroke-width="0.9"/>
<rect x="257.70" y="274.58" width="3.6" height="3.8" fill="#a585c6" stroke="#7440a8" stroke-width="0.9"/>
<rect x="264.70" y="274.58" width="3.6" height="3.8" fill="#a585c6" stroke="#7440a8" stroke-width="0.9"/>
<rect x="271.70" y="274.58" width="3.6" height="3.8" fill="#a585c6" stroke="#7440a8" stroke-width="0.9"/>
<rect x="278.70" y="247.66" width="3.6" height="3.8" fill="#a585c6" stroke="#7440a8" stroke-width="0.9"/>
<rect x="285.70" y="247.66" width="3.6" height="3.8" fill="#a585c6" stroke="#7440a8" stroke-width="0.9"/>
<rect x="292.70" y="261.12" width="3.6" height="3.8" fill="#a585c6" stroke="#7440a8" stroke-width="0.9"/>
<rect x="299.70" y="247.66" width="3.6" height="3.8" fill="#a585c6" stroke="#7440a8" stroke-width="0.9"/>
<rect x="306.70" y="247.66" width="3.6" height="3.8" fill="#a585c6" stroke="#7440a8" stroke-width="0.9"/>
<rect x="313.70" y="247.66" width="3.6" height="3.8" fill="#a585c6" stroke="#7440a8" stroke-width="0.9"/>
<rect x="320.70" y="247.66" width="3.6" height="3.8" fill="#a585c6" stroke="#7440a8" stroke-width="0.9"/>
<rect x="327.70" y="247.66" width="3.6" height="3.8" fill="#a585c6" stroke="#7440a8" stroke-width="0.9"/>
<rect x="334.70" y="247.66" width="3.6" height="3.8" fill="#a585c6" stroke="#7440a8" stroke-width="0.9"/>
<rect x="341.70" y="247.66" width="3.6" height="3.8" fill="#a585c6" stroke="#7440a8" stroke-width="0.9"/>
<rect x="348.70" y="247.66" width="3.6" height="3.8" fill="#a585c6" stroke="#7440a8" stroke-width="0.9"/>
<rect x="355.70" y="234.20" width="3.6" height="3.8" fill="#a585c6" stroke="#7440a8" stroke-width="0.9"/>
<rect x="362.70" y="234.20" width="3.6" height="3.8" fill="#a585c6" stroke="#7440a8" stroke-width="0.9"/>
<circle cx="84.50" cy="249.56" r="1.95" fill="#f8d6bd" stroke="#ee8d52" stroke-width="0.9"/>
<circle cx="91.50" cy="249.56" r="1.95" fill="#f8d6bd" stroke="#ee8d52" stroke-width="0.9"/>
<circle cx="98.50" cy="249.56" r="1.95" fill="#f8d6bd" stroke="#ee8d52" stroke-width="0.9"/>
<circle cx="105.50" cy="249.56" r="1.95" fill="#f8d6bd" stroke="#ee8d52" stroke-width="0.9"/>
<circle cx="112.50" cy="249.56" r="1.95" fill="#f8d6bd" stroke="#ee8d52" stroke-width="0.9"/>
<circle cx="119.50" cy="263.02" r="1.95" fill="#f8d6bd" stroke="#ee8d52" stroke-width="0.9"/>
<circle cx="126.50" cy="263.02" r="1.95" fill="#f8d6bd" stroke="#ee8d52" stroke-width="0.9"/>
<circle cx="133.50" cy="263.02" r="1.95" fill="#f8d6bd" stroke="#ee8d52" stroke-width="0.9"/>
<circle cx="140.50" cy="276.48" r="1.95" fill="#f8d6bd" stroke="#ee8d52" stroke-width="0.9"/>
<circle cx="147.50" cy="276.48" r="1.95" fill="#f8d6bd" stroke="#ee8d52" stroke-width="0.9"/>
<circle cx="154.50" cy="303.40" r="1.95" fill="#f8d6bd" stroke="#ee8d52" stroke-width="0.9"/>
<circle cx="161.50" cy="303.40" r="1.95" fill="#f8d6bd" stroke="#ee8d52" stroke-width="0.9"/>
<circle cx="168.50" cy="303.40" r="1.95" fill="#f8d6bd" stroke="#ee8d52" stroke-width="0.9"/>
<circle cx="175.50" cy="303.40" r="1.95" fill="#f8d6bd" stroke="#ee8d52" stroke-width="0.9"/>
<circle cx="182.50" cy="289.94" r="1.95" fill="#f8d6bd" stroke="#ee8d52" stroke-width="0.9"/>
<circle cx="189.50" cy="303.40" r="1.95" fill="#f8d6bd" stroke="#ee8d52" stroke-width="0.9"/>
<circle cx="196.50" cy="316.86" r="1.95" fill="#f8d6bd" stroke="#ee8d52" stroke-width="0.9"/>
<circle cx="203.50" cy="316.86" r="1.95" fill="#f8d6bd" stroke="#ee8d52" stroke-width="0.9"/>
<circle cx="210.50" cy="316.86" r="1.95" fill="#f8d6bd" stroke="#ee8d52" stroke-width="0.9"/>
<circle cx="217.50" cy="316.86" r="1.95" fill="#f8d6bd" stroke="#ee8d52" stroke-width="0.9"/>
<circle cx="224.50" cy="330.32" r="1.95" fill="#f8d6bd" stroke="#ee8d52" stroke-width="0.9"/>
<circle cx="231.50" cy="330.32" r="1.95" fill="#f8d6bd" stroke="#ee8d52" stroke-width="0.9"/>
<circle cx="238.50" cy="343.78" r="1.95" fill="#f8d6bd" stroke="#ee8d52" stroke-width="0.9"/>
<circle cx="245.50" cy="357.24" r="1.95" fill="#f8d6bd" stroke="#ee8d52" stroke-width="0.9"/>
<circle cx="252.50" cy="357.24" r="1.95" fill="#f8d6bd" stroke="#ee8d52" stroke-width="0.9"/>
<circle cx="259.50" cy="330.32" r="1.95" fill="#f8d6bd" stroke="#ee8d52" stroke-width="0.9"/>
<circle cx="266.50" cy="343.78" r="1.95" fill="#f8d6bd" stroke="#ee8d52" stroke-width="0.9"/>
<circle cx="273.50" cy="343.78" r="1.95" fill="#f8d6bd" stroke="#ee8d52" stroke-width="0.9"/>
<circle cx="280.50" cy="343.78" r="1.95" fill="#f8d6bd" stroke="#ee8d52" stroke-width="0.9"/>
<circle cx="287.50" cy="330.32" r="1.95" fill="#f8d6bd" stroke="#ee8d52" stroke-width="0.9"/>
<circle cx="294.50" cy="343.78" r="1.95" fill="#f8d6bd" stroke="#ee8d52" stroke-width="0.9"/>
<circle cx="301.50" cy="343.78" r="1.95" fill="#f8d6bd" stroke="#ee8d52" stroke-width="0.9"/>
<circle cx="308.50" cy="316.86" r="1.95" fill="#f8d6bd" stroke="#ee8d52" stroke-width="0.9"/>
<circle cx="315.50" cy="289.94" r="1.95" fill="#f8d6bd" stroke="#ee8d52" stroke-width="0.9"/>
<circle cx="322.50" cy="303.40" r="1.95" fill="#f8d6bd" stroke="#ee8d52" stroke-width="0.9"/>
<circle cx="329.50" cy="303.40" r="1.95" fill="#f8d6bd" stroke="#ee8d52" stroke-width="0.9"/>
<circle cx="336.50" cy="289.94" r="1.95" fill="#f8d6bd" stroke="#ee8d52" stroke-width="0.9"/>
<circle cx="343.50" cy="289.94" r="1.95" fill="#f8d6bd" stroke="#ee8d52" stroke-width="0.9"/>
<circle cx="350.50" cy="263.02" r="1.95" fill="#f8d6bd" stroke="#ee8d52" stroke-width="0.9"/>
<circle cx="357.50" cy="249.56" r="1.95" fill="#f8d6bd" stroke="#ee8d52" stroke-width="0.9"/>
<circle cx="364.50" cy="249.56" r="1.95" fill="#f8d6bd" stroke="#ee8d52" stroke-width="0.9"/>
<rect x="76.6" y="325.5" width="143.4" height="37.5" rx="2" fill="#fff" fill-opacity="0.85" stroke="#dcdcdc" stroke-width="1"/>
<rect x="91.2" y="333.3" width="3.6" height="3.8" fill="#a585c6" stroke="#7440a8" stroke-width="0.9"/>
<circle cx="93" cy="352.5" r="1.95" fill="#f8d6bd" stroke="#ee8d52" stroke-width="0.9"/>
<g font-family="Liberation Serif" font-size="10.5" fill="#000" stroke="#000" stroke-width="0.12"><text x="102.6" y="339.8">Euclidean distance</text><text x="185.30" y="339.8" font-style="italic">g</text><text x="190.70" y="339.8">(</text><text x="194.60" y="339.8" font-size="10.2" font-style="italic">z</text><path d="M194.40,332.60 L198.00,332.60 M196.90,331.70 L198.00,332.60 L196.90,333.50" fill="none" stroke="#111" stroke-width="0.6"/><text x="199.00" y="341.40" font-size="7.6" textLength="10.2" lengthAdjust="spacingAndGlyphs">test</text><text x="212.30" y="339.8">)</text></g>
<g font-family="Liberation Serif" font-size="10.5" fill="#000" stroke="#000" stroke-width="0.12"><text x="102.6" y="356.3">Proximity measure</text><text x="185.30" y="356.3" font-style="italic">f</text><text x="190.70" y="356.3">(</text><text x="194.60" y="356.3" font-size="10.2" font-style="italic">z</text><path d="M194.40,349.10 L198.00,349.10 M196.90,348.20 L198.00,349.10 L196.90,350.00" fill="none" stroke="#111" stroke-width="0.6"/><text x="199.00" y="357.90" font-size="7.6" textLength="10.2" lengthAdjust="spacingAndGlyphs">test</text><text x="212.30" y="356.3">)</text></g>
<rect x="70.5" y="215.1" width="307.6" height="152.6" fill="none" stroke="#7a7a7a" stroke-width="1.3"/>
<line x1="84.5" y1="367.7" x2="84.5" y2="365.4" stroke="#7a7a7a" stroke-width="1"/>
<line x1="224.4" y1="367.7" x2="224.4" y2="365.4" stroke="#7a7a7a" stroke-width="1"/>
<line x1="364.3" y1="367.7" x2="364.3" y2="365.4" stroke="#7a7a7a" stroke-width="1"/>
<line x1="70.5" y1="236.1" x2="72.8" y2="236.1" stroke="#7a7a7a" stroke-width="1"/>
<line x1="70.5" y1="288.6" x2="72.8" y2="288.6" stroke="#7a7a7a" stroke-width="1"/>
<line x1="70.5" y1="341.1" x2="72.8" y2="341.1" stroke="#7a7a7a" stroke-width="1"/>
<g font-family="Liberation Serif" font-size="17" fill="#000" stroke="#000" stroke-width="0.15">
<text x="84.6" y="385" text-anchor="middle">0.0</text>
<text x="225.5" y="385" text-anchor="middle">0.5</text>
<text x="364" y="385" text-anchor="middle">1.0</text>
<text x="55.6" y="241.0" text-anchor="end">50</text>
<text transform="translate(55.8,241.0) scale(0.76,1)">%</text>
<text x="55.6" y="294.8" text-anchor="end">35</text>
<text transform="translate(55.8,294.8) scale(0.76,1)">%</text>
<text x="55.6" y="347.2" text-anchor="end">20</text>
<text transform="translate(55.8,347.2) scale(0.76,1)">%</text>
<text x="224.6" y="402.5" text-anchor="middle">Threshold of normalized anomaly scores</text>
<text transform="translate(31.7,289.2) rotate(-90)" text-anchor="middle">Error rate</text>
</g>
<text x="17.6" y="219.2" font-size="20.6" font-family="Liberation Serif" fill="#000" stroke="#000" stroke-width="0.15">(b)</text>
</svg>
</body></html>
